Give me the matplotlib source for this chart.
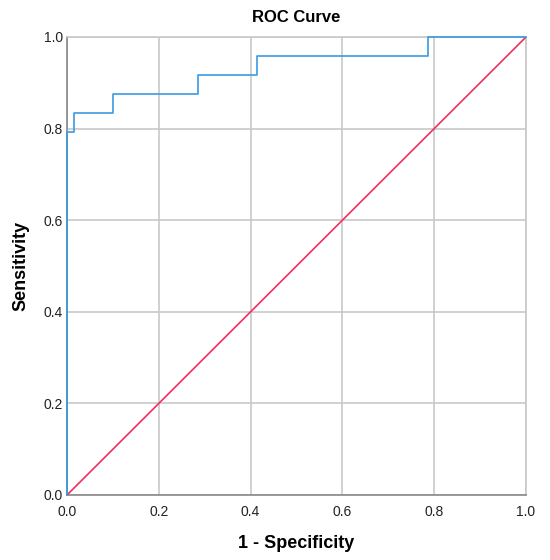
import matplotlib
matplotlib.use("Agg")
import matplotlib.pyplot as plt

plt.rcParams['font.family'] = ['Liberation Sans', 'DejaVu Sans']

# ROC step points (1 - specificity, sensitivity)
fpr = [0.0, 0.0, 0.0143, 0.0143, 0.1, 0.1, 0.286, 0.286, 0.414, 0.414, 0.786, 0.786, 1.0]
tpr = [0.0, 0.792, 0.792, 0.833, 0.833, 0.875, 0.875, 0.917, 0.917, 0.958, 0.958, 1.0, 1.0]
ref_x = [0.0, 1.0]
ref_y = [0.0, 1.0]
ticks = [0.0, 0.2, 0.4, 0.6, 0.8, 1.0]
tick_labels = ["0.0", "0.2", "0.4", "0.6", "0.8", "1.0"]

fig = plt.figure(figsize=(5.5, 5.6), dpi=100)
ax = fig.add_axes([67/550, 65/560, 459/550, 458/560])

ax.set_xlim(0, 1)
ax.set_ylim(0, 1)
ax.set_xticks(ticks)
ax.set_yticks(ticks)
ax.set_xticklabels(tick_labels, fontsize=10, color="#222222")
ax.set_yticklabels(tick_labels, fontsize=10, color="#222222")
ax.tick_params(axis="x", length=0, pad=7)
ax.tick_params(axis="y", length=0, pad=3)
ax.grid(True, color="#c8c8c8", linewidth=1.2)
ax.set_axisbelow(True)
for side in ["top", "right"]:
    ax.spines[side].set_color("#c8c8c8")
    ax.spines[side].set_linewidth(1.2)
for side in ["left", "bottom"]:
    ax.spines[side].set_color("#888888")
    ax.spines[side].set_linewidth(1.2)

ax.plot(ref_x, ref_y, color="#f0305a", linewidth=1.2, zorder=3)
ax.plot(fpr, tpr, color="#3a9be0", linewidth=1.2, zorder=4, clip_on=False)

ax.set_title("ROC Curve", fontsize=12, fontweight="bold", pad=11)
ax.set_xlabel("1 - Specificity", fontsize=13, fontweight="bold", labelpad=12)
ax.set_ylabel("Sensitivity", fontsize=13, fontweight="bold", labelpad=10)

fig.savefig("out.png", dpi=100)
